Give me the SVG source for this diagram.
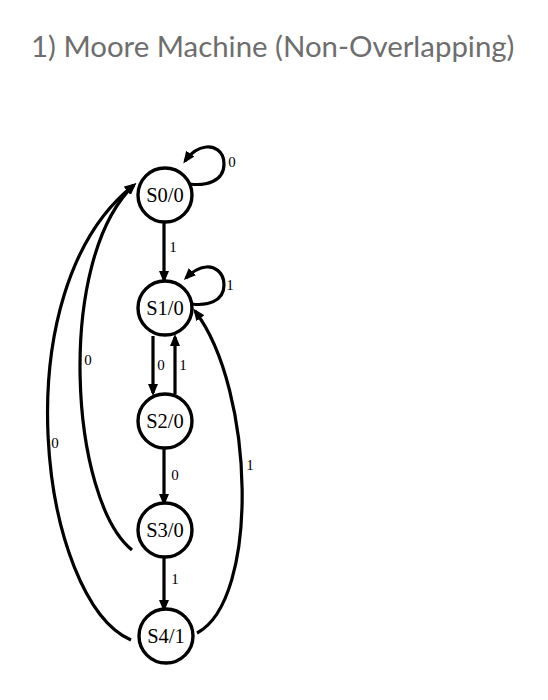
<svg xmlns="http://www.w3.org/2000/svg" width="548" height="700" viewBox="0 0 548 700">
<style>
.title{font-family:Lato,"Open Sans",sans-serif;font-size:29.4px;fill:#6e6e6e}
.node circle{fill:#fff;stroke:#000;stroke-width:3.4}
.node text{font-family:"Liberation Serif","Times New Roman",serif;font-size:20.5px;fill:#000;text-anchor:middle}
.edge{fill:none;stroke:#000;stroke-width:3.2;marker-end:url(#ah)}
.lbl{font-family:"Liberation Serif","Times New Roman",serif;font-size:15px;fill:#000;text-anchor:middle}
</style>
<defs>
<marker id="ah" markerUnits="userSpaceOnUse" markerWidth="13" markerHeight="11" refX="9" refY="5" orient="auto">
<path d="M0,0 L12,5 L0,10 Z" fill="#000"/>
</marker>
</defs>
<rect width="548" height="700" fill="#fff"/>
<text class="title" x="31" y="57">1) Moore Machine (Non-Overlapping)</text>
<g id="connectors">
<path class="edge" d="M190,184 C205,186 224,182 224,164 C224,150 213,146 206,147 C196,148 190,154 185,161"/>
<path class="edge" d="M192,304 C206,306 224,302 224,285 C224,271 213,266 206,267 C196,268 190,274 186,278"/>
<path class="edge" d="M164,223 L164,280"/>
<path class="edge" d="M153,336 L153,393"/>
<path class="edge" d="M175,394 L175,337"/>
<path class="edge" d="M164,449 L164,503"/>
<path class="edge" d="M164,558 L164,609"/>
<path class="edge" d="M132,550 C70,500 55,260 134,185"/>
<path class="edge" d="M131,640 C40,600 0,290 134,185"/>
<path class="edge" d="M197,633 C260,600 255,390 195,311"/>
<text class="lbl" x="232" y="167">0</text>
<text class="lbl" x="230" y="290">1</text>
<text class="lbl" x="173" y="252">1</text>
<text class="lbl" x="161" y="370">0</text>
<text class="lbl" x="183" y="370">1</text>
<text class="lbl" x="175" y="480">0</text>
<text class="lbl" x="175" y="584">1</text>
<text class="lbl" x="88" y="365">0</text>
<text class="lbl" x="55" y="448">0</text>
<text class="lbl" x="250" y="470">1</text>
</g>
<g id="S0" class="node"><circle cx="165" cy="195" r="27"/><text x="165" y="202">S0/0</text></g>
<g id="S1" class="node"><circle cx="165" cy="308" r="27"/><text x="165" y="315">S1/0</text></g>
<g id="S2" class="node"><circle cx="165" cy="421" r="27"/><text x="165" y="428">S2/0</text></g>
<g id="S3" class="node"><circle cx="165" cy="530" r="27"/><text x="165" y="537">S3/0</text></g>
<g id="S4" class="node"><circle cx="166" cy="636" r="27"/><text x="166" y="643">S4/1</text></g>
</svg>
